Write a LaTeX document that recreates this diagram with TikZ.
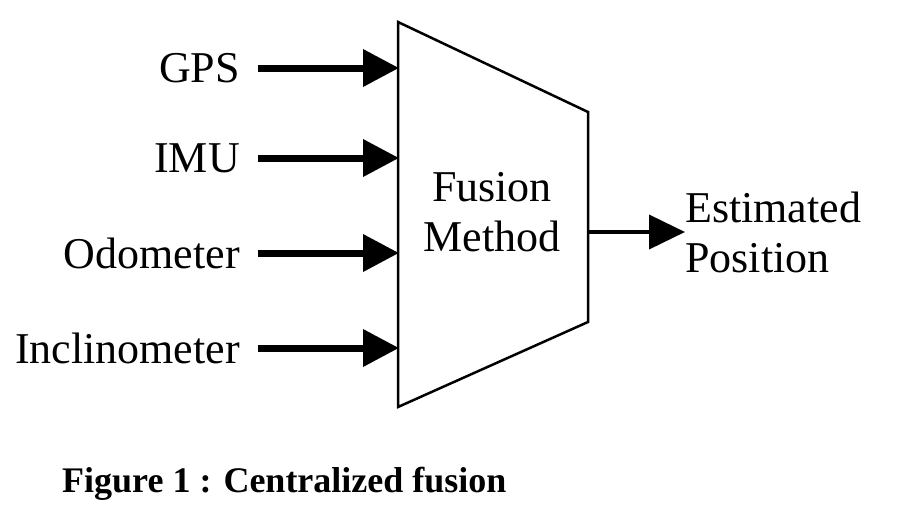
\documentclass[tikz,border=0pt]{standalone}
\usepackage{fontspec}
\setmainfont{Liberation Serif}
\usetikzlibrary{arrows.meta,positioning}
\begin{document}
\begin{tikzpicture}[x=1pt,y=-1pt,
    lbl/.style={font=\fontsize{44}{50}\selectfont, inner sep=0pt},
    inarrow/.style={line width=7pt, -{Triangle[length=36pt,width=36pt]}},
    outarrow/.style={line width=4pt, -{Triangle[length=36pt,width=34pt]}}]
    % Frame
    \useasboundingbox (0,0) rectangle (919,504);
    % Fusion block
    \coordinate (TL) at (398,22);
    \coordinate (BL) at (398,407);
    \coordinate (TR) at (588,112);
    \coordinate (BR) at (588,322);
    \draw[line width=2.5pt, line join=miter] (TL) -- (TR) -- (BR) -- (BL) -- cycle;
    \node[lbl, align=center] (fusion) at (492,212) {Fusion\\Method};
    % Inputs
    \foreach \name/\txt/\y in {gps/GPS/68, imu/IMU/158, odo/Odometer/253, incl/Inclinometer/348}{
        \node[lbl, anchor=east] (\name) at (240,\y) {\txt};
        \coordinate (\name in) at (399,\y);
        \draw[inarrow] ([xshift=18pt]\name.east) -- (\name in);
    }
    % Output
    \coordinate (out) at (588,232);
    \node[lbl, align=left, anchor=west] (est) at (685,232) {Estimated\\Position};
    \draw[outarrow] (out) -- (est.west);
    % Caption
    \node[font=\fontsize{36}{40}\selectfont\bfseries, inner sep=0pt, anchor=west] (caption) at (62,484) {Figure 1 : Centralized fusion};
\end{tikzpicture}
\end{document}
